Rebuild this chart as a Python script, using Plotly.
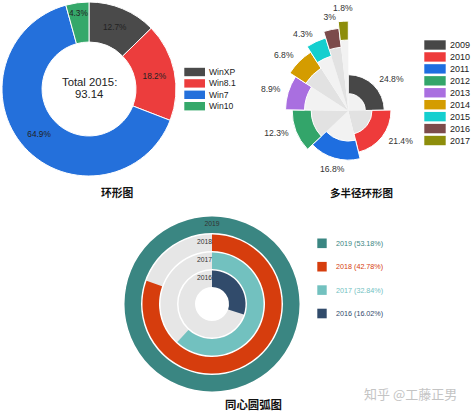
import numpy as np
import plotly.graph_objects as go

W, H = 474, 413

# ---------------- data ----------------
# Chart 1: donut (环形图)
os_labels = ["WinXP", "Win8.1", "Win7", "Win10"]
os_share = [12.7, 18.2, 64.9, 4.3]
os_colors = ["#4a4a4a", "#ec3d3d", "#2470db", "#35a86a"]
total_title = "Total 2015:"
total_value = "93.14"

# Chart 2: multi-radius donut (多半径环形图)
years2 = ["2009", "2010", "2011", "2012", "2013", "2014", "2015", "2016", "2017"]
share2 = [24.8, 21.4, 16.8, 12.3, 8.9, 6.8, 4.3, 3, 1.8]
colors2 = ["#474747", "#ee3b3b", "#1e6ee0", "#33a56a", "#a96fe0",
           "#d49c00", "#14cfcf", "#7c4b4b", "#8d8d0b"]

# Chart 3: concentric arcs (同心圆弧图)
years3 = ["2019", "2018", "2017", "2016"]
share3 = [53.18, 42.78, 32.84, 16.02]
colors3 = ["#3a8682", "#d63d0d", "#72c1bf", "#314b6b"]

titles = ["环形图", "多半径环形图", "同心圆弧图"]
watermark = "知乎 @工藤正男"


def fx(x):
    return x / W


def fy(y):
    return 1 - y / H


FONT = "Liberation Sans, Arial, sans-serif"
CJK = "Noto Sans CJK SC, sans-serif"

fig = go.Figure()
shapes = []
annotations = []


def label(x, y, text, size, color, family=FONT, xanchor="center"):
    annotations.append(dict(x=fx(x), y=fy(y), xref="paper", yref="paper",
                            text=text, showarrow=False, xanchor=xanchor,
                            yanchor="middle", font=dict(size=size, color=color, family=family)))


# ---------------- chart 1 ----------------
c1x, c1y, r1 = 89, 89, 87
fig.add_trace(go.Pie(
    labels=os_labels, values=os_share, sort=False, direction="clockwise",
    hole=0.54, marker=dict(colors=os_colors, line=dict(color="white", width=1)),
    texttemplate="%{value}%", textposition="inside",
    insidetextorientation="horizontal",
    textfont=dict(size=8.3, color="#222", family=FONT),
    showlegend=False, hoverinfo="skip",
    domain=dict(x=[fx(c1x - r1), fx(c1x + r1)], y=[fy(c1y + r1), fy(c1y - r1)]),
))
label(c1x, 81.7, total_title, 11.3, "#222")
label(c1x, 93.6, total_value, 11.3, "#222")
for i, (lab, col) in enumerate(zip(os_labels, os_colors)):
    yc = 72 + 11.4 * i
    shapes.append(dict(type="rect", xref="paper", yref="paper",
                       x0=fx(184.3), x1=fx(205), y0=fy(yc + 4.2), y1=fy(yc - 4.2),
                       fillcolor=col, line=dict(width=0)))
    label(206.5, yc, lab, 8.6, "#222", xanchor="left")

# ---------------- chart 2 ----------------
c2x, c2y, R2 = 348.3, 110.7, 110
tot2 = sum(share2)
w2 = np.array(share2) / tot2 * 360
start2 = np.cumsum(w2) - w2
mid2 = start2 + w2 / 2
outer2 = np.array([36 + 6.7 * i for i in range(len(share2))])
band2 = 19
inner2 = outer2 - band2
greys = ["#f2f2f2" if i % 2 == 0 else "#e2e2e2" for i in range(len(share2))]

fig.add_trace(go.Barpolar(
    r=inner2, theta=mid2, width=w2, marker=dict(color=greys, line=dict(width=0)),
    subplot="polar", showlegend=False, hoverinfo="skip"))
fig.add_trace(go.Barpolar(
    r=[band2] * len(share2), base=inner2, theta=mid2, width=w2,
    marker=dict(color=colors2, line=dict(color="white", width=1)),
    subplot="polar", showlegend=False, hoverinfo="skip"))

pos2 = []
for a in mid2:
    s, c = np.sin(np.radians(a)), np.cos(np.radians(a))
    if s > 0.3:
        pos2.append("middle right")
    elif s < -0.3:
        pos2.append("middle left")
    else:
        pos2.append("top center" if c > 0 else "bottom center")
fig.add_trace(go.Scatterpolar(
    r=outer2 + 8, theta=mid2, mode="text",
    text=[f"{v:g}%" for v in share2], textposition=pos2,
    textfont=dict(size=8.6, color="#333", family=FONT),
    cliponaxis=False, subplot="polar", showlegend=False, hoverinfo="skip"))

for i, (lab, col) in enumerate(zip(years2, colors2)):
    yc = 45 + 11.94 * i
    shapes.append(dict(type="rect", xref="paper", yref="paper",
                       x0=fx(424.3), x1=fx(445.7), y0=fy(yc + 4.7), y1=fy(yc - 4.7),
                       fillcolor=col, line=dict(width=0)))
    label(447.8, yc, lab, 9, "#222", xanchor="left")

# ---------------- chart 3 ----------------
c3x, c3y, R3 = 212, 304, 90
n3 = len(share3)
base3 = [71 - 18 * i for i in range(n3)]
band3 = 16.5
max3 = max(share3)
w3 = [v / max3 * 360 for v in share3]

fig.add_trace(go.Barpolar(
    r=[band3] * n3, base=base3, theta=[180] * n3, width=[360] * n3,
    marker=dict(color="#e6e6e6", line=dict(width=0)),
    subplot="polar2", showlegend=False, hoverinfo="skip"))
fig.add_trace(go.Barpolar(
    r=[band3] * n3, base=base3, theta=[w / 2 for w in w3], width=w3,
    marker=dict(color=colors3, line=dict(width=0)),
    subplot="polar2", showlegend=False, hoverinfo="skip"))
fig.add_trace(go.Scatterpolar(
    r=[b + band3 / 2 for b in base3], theta=[0] * n3, mode="text", text=years3,
    textposition=["middle center" if v == max3 else "middle left" for v in share3],
    textfont=dict(size=6.8, color="#333", family=FONT),
    cliponaxis=False, subplot="polar2", showlegend=False, hoverinfo="skip"))

for i, (lab, v, col) in enumerate(zip(years3, share3, colors3)):
    yc = 243.3 + 23.4 * i
    shapes.append(dict(type="rect", xref="paper", yref="paper",
                       x0=fx(317.3), x1=fx(326.7), y0=fy(yc + 4.8), y1=fy(yc - 4.8),
                       fillcolor=col, line=dict(width=0)))
    label(333.5, yc, f"{lab} ({v:.2f}%)", 7.2, col, xanchor="left")

# ---------------- titles & watermark ----------------
for t, (tx, ty, ts) in zip(titles, [(117.5, 192, 10.8), (361, 192, 10.5), (253.5, 404, 11.4)]):
    label(tx, ty, f"<b>{t}</b>", ts, "#111", family=CJK)
label(410, 393, watermark, 13, "#c4c4c4", family=CJK)

polar_common = dict(
    bgcolor="rgba(0,0,0,0)", hole=0, bargap=0,
    angularaxis=dict(visible=False, rotation=90, direction="clockwise"),
)
fig.update_layout(
    width=W, height=H, margin=dict(l=0, r=0, t=0, b=0),
    paper_bgcolor="white", plot_bgcolor="white",
    uniformtext=dict(minsize=8.3, mode="show"),
    polar=dict(domain=dict(x=[fx(c2x - R2), fx(c2x + R2)], y=[fy(c2y + R2), fy(c2y - R2)]),
               radialaxis=dict(visible=False, range=[0, R2]), **polar_common),
    polar2=dict(domain=dict(x=[fx(c3x - R3), fx(c3x + R3)], y=[fy(c3y + R3), fy(c3y - R3)]),
                radialaxis=dict(visible=False, range=[0, R3]), **polar_common),
    shapes=shapes, annotations=annotations,
)

fig.write_html("out.html", config={"displayModeBar": False},
               post_script="document.body.style.margin='0';document.body.style.overflow='hidden';")
